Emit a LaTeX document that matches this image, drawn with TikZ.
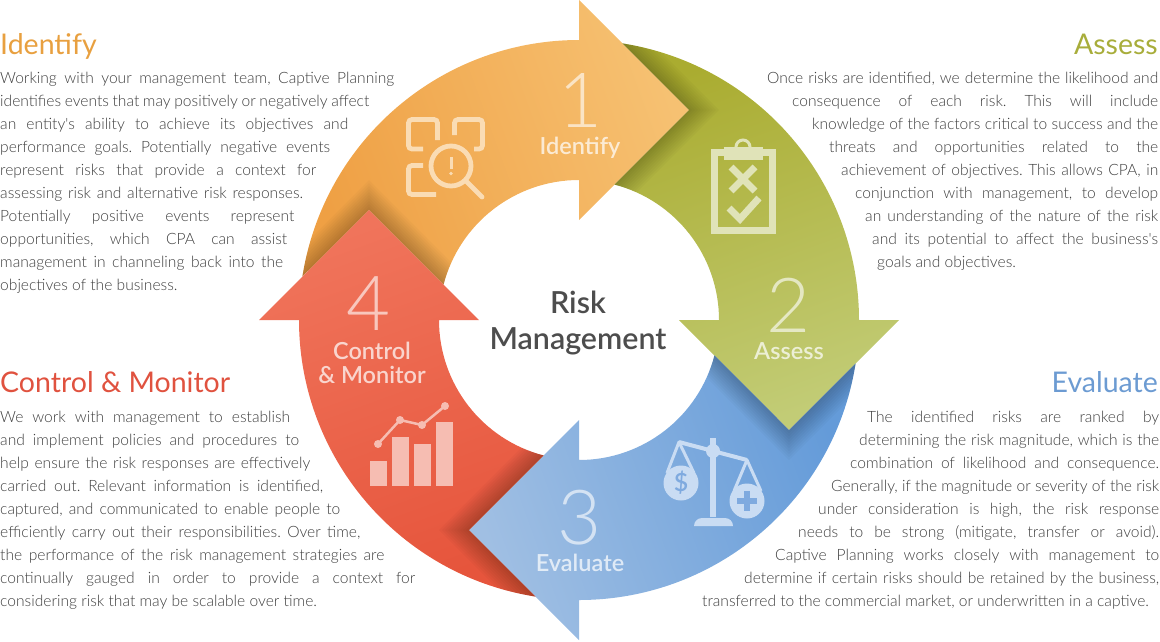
\documentclass[tikz,border=0pt]{standalone}
\usepackage{fontspec}
\setmainfont{Lato}
\newfontfamily\bodyfont{Lato Light}
\newfontfamily\boldfont{Lato Semibold}

\definecolor{orangedark}{HTML}{EFA044}
\definecolor{orangelight}{HTML}{F6C172}
\definecolor{greendark}{HTML}{AAAC30}
\definecolor{greenlight}{HTML}{C2CC76}
\definecolor{bluedark}{HTML}{649BD9}
\definecolor{bluelight}{HTML}{A0BFE3}
\definecolor{reddark}{HTML}{E6553C}
\definecolor{redlight}{HTML}{F0745B}
\definecolor{bodygrey}{HTML}{3E3E3E}
\definecolor{centergrey}{HTML}{4D4D4D}

\tikzset{
    bodytext/.style={anchor=north west,inner sep=0pt,text=bodygrey,align=justify,
        font=\bodyfont\frenchspacing\fontsize{15.6}{23}\selectfont},
    headtext/.style={inner sep=0pt,font=\fontsize{28.5}{30}\selectfont},
    stepnum/.style={inner sep=0pt,text=white,text opacity=.62,font=\bodyfont\fontsize{76}{76}\selectfont},
    steplabel/.style={inner sep=0pt,text=white,text opacity=.72,align=center,
        font=\boldfont\fontsize{23.5}{24}\selectfont},
}
\newcommand{\segmentpath}{(171.08:280) arc[start angle=171.08,end angle=90,radius=280]
    -- (0,320) -- (110,210) -- (0,100) -- (0,140)
    arc[start angle=90,end angle=165.34,radius=140] -- (-210,110) -- cycle}
\newcommand{\nl}{\linebreak}

\begin{document}
\begin{tikzpicture}[x=1pt,y=1pt]
    \useasboundingbox (0,0) rectangle (1160,-641);

    % Draw the four arrows of the ring with the shadow of the arrow before
    \foreach \rot/\shadeangle/\tailcolor/\headcolor in {0/110/orangedark/orangelight,
        -90/20/greendark/greenlight,-180/-70/bluedark/bluelight,-270/-160/reddark/redlight} {
        \begin{scope}[shift={(579,-320)},rotate=\rot]
            \shade[left color=\tailcolor,right color=\headcolor,shading angle=\shadeangle] \segmentpath;
            \begin{scope}
                \clip \segmentpath;
                \foreach \d in {3,6,...,30}
                    \fill[black,opacity=0.022] (-320,\d) -- (-210,110+\d) -- (-100,\d) -- cycle;
            \end{scope}
        \end{scope}
    }

    % Identify icon
    \begin{scope}[color={rgb,255:red,250;green,220;blue,180},line width=4.8pt,rounded corners=3.5pt]
        \draw (437.5,-140) -- (437.5,-119.5) -- (408.5,-119.5) -- (408.5,-149) -- (423,-149);
        \draw (454.5,-135) -- (454.5,-119.5) -- (482.5,-119.5) -- (482.5,-149) -- (474,-149);
        \draw (423,-165.5) -- (408.5,-165.5) -- (408.5,-194.5) -- (436,-194.5);
    \end{scope}
    \begin{scope}[color={rgb,255:red,250;green,220;blue,180}]
        \draw[line width=4.8pt] (451,-166) circle[radius=20];
        \draw[line width=4.8pt,line cap=round] (466,-181) -- (482,-197);
        \fill (449.5,-157) rectangle (452.5,-169);
        \fill (451,-173.5) circle[radius=1.8];
    \end{scope}

    % Assess icon
    \begin{scope}[color={rgb,255:red,224;green,227;blue,184}]
        \draw[line width=6.5pt] (714.5,-152.5) rectangle (772.5,-230.5);
        \fill (724,-147) rectangle (763,-160);
        \draw[line width=3pt] (743,-147) circle[radius=7];
        \draw[line width=7pt] (731,-167) -- (755,-191);
        \draw[line width=7pt] (755,-167) -- (731,-191);
        \draw[line width=7pt] (729,-208) -- (740,-219) -- (759,-198);
    \end{scope}

    % Evaluate icon
    \begin{scope}[color={rgb,255:red,201;green,220;blue,243}]
        \draw[line width=6pt] (713,-438) -- (713,-517);
        \fill (694,-526) arc[start angle=180,end angle=90,radius=8] -- (725,-518) arc[start angle=90,end angle=0,radius=8] -- cycle;
        \draw[line width=4pt] (679,-442) -- (747,-460);
        \fill (713,-451) circle[radius=7];
        \draw[line width=3pt,line join=round] (667,-473) -- (679,-442) -- (694,-473);
        \fill (681,-483) circle[radius=17.5];
        \draw[line width=3pt,line join=round] (734,-491) -- (747,-460) -- (761,-491);
        \fill (747,-501) circle[radius=17.5];
    \end{scope}
    \node[text={rgb,255:red,127;green,170;blue,223},inner sep=0pt,font=\boldfont\fontsize{25}{25}\selectfont] (dollarsign) at (681,-483) {\$};
    \fill[color={rgb,255:red,127;green,170;blue,223}] (744,-511) rectangle (750,-491);
    \fill[color={rgb,255:red,127;green,170;blue,223}] (737,-504) rectangle (757,-498);

    % Control and monitor icon
    \begin{scope}[color={rgb,255:red,246;green,189;blue,178}]
        \fill (370,-461) rectangle (387,-486);
        \fill (392,-437) rectangle (409,-486);
        \fill (414,-444) rectangle (431,-486);
        \fill (436,-422) rectangle (453,-486);
        \draw[line width=2.5pt] (378,-444) -- (400,-420) -- (422,-425) -- (445,-406);
        \foreach \px/\py in {378/444,400/420,422/425,445/406}
            \fill (\px,-\py) circle[radius=4];
    \end{scope}

    % Text on the ring
    \node[stepnum] (identifynum) at (581,-100) {1};
    \node[steplabel] (identifylabel) at (580,-148) {Identify};
    \node[stepnum] (assessnum) at (789,-305) {2};
    \node[steplabel] (assesslabel) at (789,-351) {Assess};
    \node[stepnum] (evaluatenum) at (580,-518) {3};
    \node[steplabel] (evaluatelabel) at (580,-563) {Evaluate};
    \node[stepnum] (controlnum) at (369,-304) {4};
    \node[steplabel] (controllabel) at (372,-363) {Control\\\& Monitor};
    \node[text=centergrey,align=center,inner sep=0pt,font=\boldfont\fontsize{30.4}{36}\selectfont] (centerlabel) at (578,-323) {Risk\\Management};

    % Titles
    \node[headtext,anchor=west,text={rgb,255:red,232;green,160;blue,64}] (identifytitle) at (0,-46) {Identify};
    \node[headtext,anchor=east,text={rgb,255:red,168;green,173;blue,59}] (assesstitle) at (1158,-44) {Assess};
    \node[headtext,anchor=east,text={rgb,255:red,108;green,155;blue,210}] (evaluatetitle) at (1158,-382) {Evaluate};
    \node[headtext,anchor=west,text={rgb,255:red,224;green,82;blue,63}] (controltitle) at (0,-382) {Control \& Monitor};

    % Paragraphs
    \node[bodytext,text width=394pt] (identifytext) at (0,-71.5) {\tolerance=10000\hbadness=10000\hfuzz=20pt
        \parshape 10 0pt 394pt 0pt 369pt 0pt 348pt 0pt 330pt 0pt 316pt 0pt 303pt 0pt 294pt 0pt 287pt 0pt 283pt 0pt 394pt
        Working with your management team, Captive Planning\nl
        identifies events that may positively or negatively affect\nl
        an entity's ability to achieve its objectives and\nl
        performance goals. Potentially negative events\nl
        represent risks that provide a context for\nl
        assessing risk and alternative risk responses.\nl
        Potentially positive events represent\nl
        opportunities, which CPA can assist\nl
        management in channeling back into the\nl
        objectives of the business.\par};
    \node[bodytext,text width=391pt] (assesstext) at (767,-71.5) {\tolerance=10000\hbadness=10000\hfuzz=20pt
        \parshape 9 0pt 391pt 25pt 366pt 45pt 346pt 62pt 329pt 74pt 317pt 88pt 303pt 98pt 293pt 105pt 286pt 110pt 281pt
        Once risks are identified, we determine the likelihood and\nl
        consequence of each risk. This will include\nl
        knowledge of the factors critical to success and the\nl
        threats and opportunities related to the\nl
        achievement of objectives. This allows CPA, in\nl
        conjunction with management, to develop\nl
        an understanding of the nature of the risk\nl
        and its potential to affect the business's\nl
        goals and objectives.\par};
    \node[bodytext,text width=457pt] (evaluatetext) at (702,-410.5) {\tolerance=10000\hbadness=10000\hfuzz=20pt
        \parshape 9 165pt 292pt 157pt 300pt 148pt 309pt 129pt 328pt 116pt 341pt 96pt 361pt 73pt 384pt 42pt 415pt 0pt 457pt
        The identified risks are ranked by\nl
        determining the risk magnitude, which is the\nl
        combination of likelihood and consequence.\nl
        Generally, if the magnitude or severity of the risk\nl
        under consideration is high, the risk response\nl
        needs to be strong (mitigate, transfer or avoid).\nl
        Captive Planning works closely with management to\nl
        determine if certain risks should be retained by the business,\nl
        transferred to the commercial market, or underwritten in a captive.\par};
    \node[bodytext,text width=415pt] (controltext) at (0,-410.5) {\tolerance=10000\hbadness=10000\hfuzz=20pt
        \parshape 9 0pt 290pt 0pt 299pt 0pt 310pt 0pt 323pt 0pt 340pt 0pt 360pt 0pt 384pt 0pt 415pt 0pt 415pt
        We work with management to establish\nl
        and implement policies and procedures to\nl
        help ensure the risk responses are effectively\nl
        carried out. Relevant information is identified,\nl
        captured, and communicated to enable people to\nl
        efficiently carry out their responsibilities. Over time,\nl
        the performance of the risk management strategies are\nl
        continually gauged in order to provide a context for\nl
        considering risk that may be scalable over time.\par};
\end{tikzpicture}
\end{document}
